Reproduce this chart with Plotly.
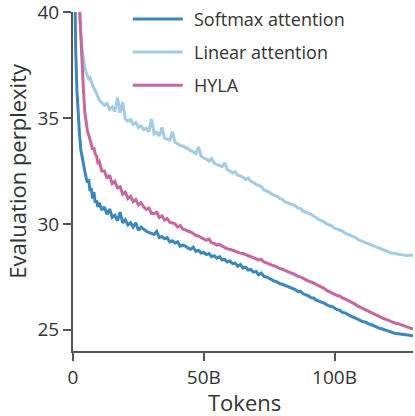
import plotly.graph_objects as go

# evaluation points, in billions of tokens
tokens = [0.3, 0.6, 1, 1.5, 2, 2.5, 3, 3.5, 4, 4.5, 5, 5.5, 6, 6.5, 7, 7.5, 8, 8.5, 9, 9.5,
          10, 11, 12, 13, 14, 15, 16, 17, 18, 19, 20, 21, 22, 23, 24, 25, 26, 27, 28, 29,
          30, 31, 32, 33, 34, 35, 36, 37, 38, 39, 40, 41, 42, 43, 44, 45, 46, 47, 48, 49,
          50, 51, 52, 53, 54, 55, 56, 57, 58, 59, 60, 61, 62, 63, 64, 65, 66, 67, 68, 69,
          70, 71, 72, 73, 74, 75, 76, 77, 78, 79, 80, 81, 82, 83, 84, 85, 86, 87, 88, 89,
          90, 91, 92, 93, 94, 95, 96, 97, 98, 99, 100, 101, 102, 103, 104, 105, 106, 107, 108, 109,
          110, 111, 112, 113, 114, 115, 116, 117, 118, 119, 120, 121, 122, 123, 124, 125, 126, 127, 128, 129,
          130]

softmax_ppl = [46, 41.5, 38.3, 36.3, 35.0, 34.2, 33.5, 33.1, 32.7, 32.5,
               32.2, 31.95, 32.1, 31.55, 31.7, 31.2, 31.5, 31.0, 31.1, 30.8,
               31.0, 30.65, 30.8, 30.45, 30.7, 30.3, 30.4, 30.15, 30.55, 30.05,
               30.2, 29.95, 30.05, 29.85, 30.05, 29.7, 29.85, 29.75, 29.65, 29.6,
               29.55, 29.5, 29.65, 29.35, 29.4, 29.3, 29.35, 29.15, 29.2, 29.1,
               29.15, 28.95, 29.0, 28.95, 28.85, 28.8, 28.9, 28.7, 28.75, 28.62,
               28.65, 28.55, 28.6, 28.45, 28.5, 28.38, 28.45, 28.3, 28.32, 28.2,
               28.25, 28.12, 28.15, 28.0, 28.08, 27.92, 27.95, 27.82, 27.85, 27.72,
               27.75, 27.6, 27.68, 27.52, 27.5, 27.42, 27.38, 27.3, 27.26, 27.18,
               27.15, 27.1, 27.02, 27.0, 26.92, 26.9, 26.8, 26.82, 26.7, 26.66,
               26.6, 26.52, 26.5, 26.4, 26.36, 26.3, 26.26, 26.18, 26.12, 26.1,
               26.02, 25.95, 25.92, 25.82, 25.8, 25.72, 25.66, 25.6, 25.55, 25.48,
               25.45, 25.38, 25.36, 25.28, 25.25, 25.18, 25.15, 25.08, 25.05, 25.0,
               24.96, 24.92, 24.88, 24.84, 24.82, 24.79, 24.78, 24.75, 24.75, 24.72, 24.72]

linear_ppl = [60, 52, 47, 44, 41.5, 40.0, 38.9, 38.2, 37.7, 37.4,
              37.15, 37.0, 36.85, 36.9, 36.7, 36.55, 36.4, 36.3, 36.15, 36.0,
              35.85, 35.72, 35.6, 35.68, 35.4, 35.52, 35.3, 35.95, 35.25, 35.75,
              34.95, 34.85, 34.92, 34.7, 34.78, 34.55, 34.62, 34.45, 34.52, 34.35,
              34.95, 34.25, 34.32, 34.15, 34.55, 34.05, 34.0, 33.95, 34.35, 33.85,
              33.78, 33.7, 33.68, 33.6, 33.52, 33.48, 33.4, 33.32, 33.62, 33.2,
              33.1, 33.06, 32.96, 33.08, 32.86, 32.8, 32.76, 32.7, 32.88, 32.56,
              32.5, 32.4, 32.46, 32.3, 32.26, 32.2, 32.1, 32.16, 32.0, 31.96,
              31.86, 31.8, 31.76, 31.6, 31.56, 31.5, 31.4, 31.36, 31.3, 31.2,
              31.16, 31.05, 31.0, 30.96, 30.9, 30.85, 30.75, 30.72, 30.6, 30.56,
              30.5, 30.45, 30.36, 30.3, 30.2, 30.16, 30.1, 30.0, 29.96, 29.9,
              29.8, 29.76, 29.7, 29.66, 29.56, 29.5, 29.46, 29.4, 29.36, 29.26,
              29.2, 29.16, 29.1, 29.06, 29.0, 28.96, 28.9, 28.86, 28.8, 28.76,
              28.7, 28.66, 28.62, 28.6, 28.58, 28.55, 28.56, 28.52, 28.5, 28.53, 28.5]

hyla_ppl = [60, 52, 47, 44, 41.5, 40.0, 38.6, 37.4, 36.3, 35.3,
            34.7, 34.4, 34.2, 33.9, 33.75, 33.5, 33.6, 33.3, 33.2, 32.9,
            32.95, 32.5, 32.5, 32.15, 32.3, 31.9, 32.0, 31.7, 31.75, 31.4,
            31.5, 31.2, 31.3, 31.05, 31.15, 30.9, 31.0, 30.8, 30.68, 30.75,
            30.5, 30.48, 30.55, 30.3, 30.38, 30.18, 30.25, 30.08, 30.05, 30.0,
            29.85, 29.92, 29.75, 29.72, 29.65, 29.62, 29.55, 29.45, 29.42, 29.35,
            29.25, 29.22, 29.28, 29.1, 29.08, 29.0, 29.02, 28.95, 28.85, 28.82,
            28.8, 28.75, 28.72, 28.65, 28.62, 28.6, 28.55, 28.5, 28.48, 28.4,
            28.36, 28.3, 28.32, 28.2, 28.16, 28.1, 28.05, 28.02, 27.95, 27.9,
            27.86, 27.8, 27.76, 27.7, 27.66, 27.6, 27.52, 27.5, 27.42, 27.36,
            27.3, 27.26, 27.2, 27.12, 27.06, 27.0, 26.96, 26.86, 26.8, 26.76,
            26.7, 26.62, 26.6, 26.5, 26.46, 26.4, 26.32, 26.26, 26.2, 26.12,
            26.06, 26.0, 25.92, 25.86, 25.82, 25.76, 25.7, 25.62, 25.56, 25.52,
            25.48, 25.42, 25.36, 25.32, 25.3, 25.25, 25.2, 25.16, 25.12, 25.08, 25.05]

series_names = ['Softmax attention', 'Linear attention', 'HYLA']
series_colors = ['#3a87c0', '#a3cbe3', '#c8669e']
x_tickvals = [0, 50, 100]
x_ticktext = ['0', '50B', '100B']
y_tickvals = [25, 30, 35, 40]
x_title = 'Tokens'
y_title = 'Evaluation perplexity'

fig = go.Figure()
for name, ys, col in zip(series_names, [softmax_ppl, linear_ppl, hyla_ppl], series_colors):
    fig.add_trace(go.Scatter(x=tokens, y=ys, name=name, mode='lines',
                             line=dict(color=col, width=3), showlegend=False))

# hand-made legend so the sample lines are as long as in the original
leg_y = [0.979, 0.882, 0.784]
for name, col, yy in zip(series_names, series_colors, leg_y):
    fig.add_shape(type='line', xref='paper', yref='paper', x0=0.176, x1=0.323, y0=yy, y1=yy,
                  line=dict(color=col, width=3))
    fig.add_annotation(x=0.35, y=yy, xref='paper', yref='paper', text=name, showarrow=False,
                       xanchor='left', yanchor='middle', font=dict(size=18, color='#333333'))

# axis titles as annotations (standoff is ignored without automargin)
fig.add_annotation(x=0.505, y=0, xref='paper', yref='paper', text=x_title, showarrow=False,
                   xanchor='center', yanchor='middle', yshift=-51, font=dict(size=22, color='#333333'))
fig.add_annotation(x=0, y=0.532, xref='paper', yref='paper', text=y_title, showarrow=False,
                   textangle=-90, xanchor='center', yanchor='middle', xshift=-56,
                   font=dict(size=22, color='#333333'))

axis_style = dict(showline=True, linecolor='#555555', linewidth=2, ticks='outside',
                  ticklen=8, tickwidth=2, tickcolor='#555555', showgrid=False, zeroline=False,
                  automargin=False, ticklabeloverflow='allow',
                  tickfont=dict(size=19, color='#333333'))
fig.update_xaxes(range=[0, 130], tickvals=x_tickvals, ticktext=x_ticktext, **axis_style)
fig.update_yaxes(range=[24, 40], tickvals=y_tickvals, **axis_style)
fig.update_layout(width=415, height=416, margin=dict(l=73, r=2, t=12, b=65),
                  plot_bgcolor='white', paper_bgcolor='white',
                  font=dict(family='Open Sans', color='#333333'))

# drop the default 8px body margin so the figure fills the window
fig.write_html("out.html", config={'displayModeBar': False},
               post_script="document.body.style.margin='0';")
